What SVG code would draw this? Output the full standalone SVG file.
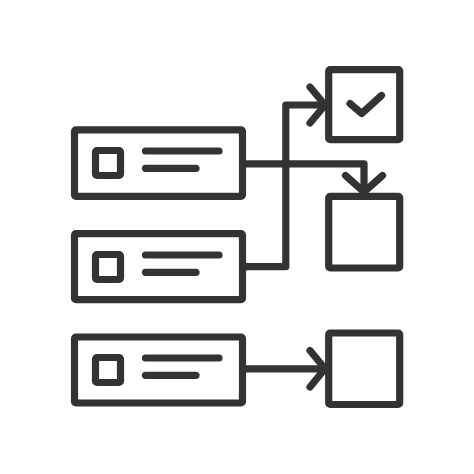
<svg xmlns="http://www.w3.org/2000/svg" width="474" height="474" viewBox="0 0 474 474">
<style>
.s{fill:none;stroke:#333;stroke-width:7.2;stroke-linejoin:round;stroke-linecap:round}
.b{fill:none;stroke:#333;stroke-width:7.2;stroke-linejoin:round}
</style>
<rect width="474" height="474" fill="#fff"/>
<g id="src1">
<rect class="b" x="74.5" y="129.8" width="168" height="66.5" rx="1.5"/>
<rect class="b" x="95.5" y="150.5" width="25" height="25" rx="1.5"/>
<line class="s" x1="145.5" y1="151" x2="219" y2="151"/>
<line class="s" x1="145.5" y1="168.3" x2="196" y2="168.3"/>
</g>
<g id="src2">
<rect class="b" x="74.5" y="233.7" width="168" height="66" rx="1.5"/>
<rect class="b" x="95.5" y="254.5" width="25" height="25" rx="1.5"/>
<line class="s" x1="145.5" y1="255" x2="219" y2="255"/>
<line class="s" x1="145.5" y1="272.3" x2="196" y2="272.3"/>
</g>
<g id="src3">
<rect class="b" x="74.5" y="337" width="168" height="66" rx="1.5"/>
<rect class="b" x="95.5" y="357.5" width="25" height="25" rx="1.5"/>
<line class="s" x1="145.5" y1="358" x2="219" y2="358"/>
<line class="s" x1="145.5" y1="375.3" x2="196" y2="375.3"/>
</g>
<g id="dst1">
<rect class="b" x="328.7" y="69.7" width="71" height="70" rx="1.5"/>
<polyline class="s" points="350,103.5 361.7,113.5 381.5,95.5"/>
</g>
<g id="dst2">
<rect class="b" x="328.7" y="196.3" width="71" height="71.7" rx="1.5"/>
</g>
<g id="dst3">
<rect class="b" x="328.7" y="333" width="71" height="71.5" rx="1.5"/>
</g>
<g id="connectors">
<polyline class="s" points="246,266.7 285.8,266.7 285.8,105 322,105"/>
<polyline class="s" points="310,87 325,105 310,123"/>
<polyline class="s" points="246,163.8 364,163.8 364,190"/>
<polyline class="s" points="345.5,175.5 364,192 382.5,175.5"/>
<line class="s" x1="246" y1="368.8" x2="322" y2="368.8"/>
<polyline class="s" points="310,350.5 325,368.8 310,387"/>
</g>
</svg>
